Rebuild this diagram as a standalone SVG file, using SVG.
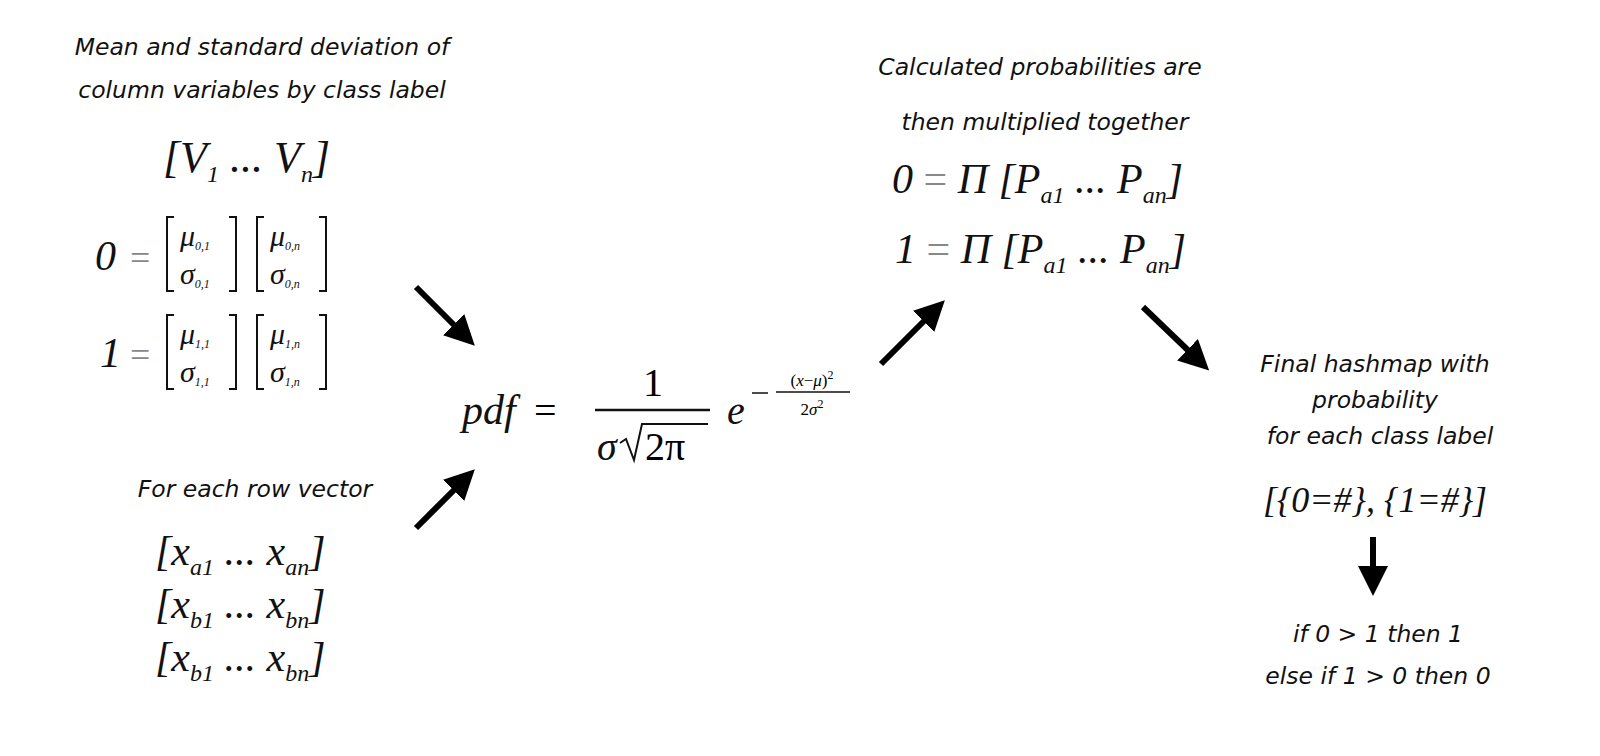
<svg xmlns="http://www.w3.org/2000/svg" width="1600" height="756" viewBox="0 0 1600 756">
<style>
.lab{font-family:"DejaVu Sans",sans-serif;font-style:italic;font-size:23.5px;fill:#111;text-anchor:middle}
.m{font-family:"Liberation Serif",serif;font-style:italic;fill:#111}
.eq{font-family:"Liberation Serif",serif;fill:#888}
.br{fill:none;stroke:#111;stroke-width:2}
.arr{stroke:#000;stroke-width:6;marker-end:url(#ah)}
</style>
<defs>
<marker id="ah" markerWidth="5" markerHeight="5" refX="1.5" refY="2.5" orient="auto" markerUnits="strokeWidth"><path d="M0,0 L5,2.5 L0,5 z" fill="#000"/></marker>
<g id="mat"><path class="br" d="M9,0 H2 V74 H9 M64,0 H71 V74 H64"/></g>
</defs>
<rect width="1600" height="756" fill="#fff"/>
<g id="connectors">
<line class="arr" x1="416" y1="287" x2="460" y2="331"/>
<line class="arr" x1="416" y1="528" x2="460" y2="484"/>
<line class="arr" x1="881" y1="364" x2="930" y2="315"/>
<line class="arr" x1="1143" y1="307" x2="1194" y2="356"/>
<line class="arr" x1="1373" y1="537" x2="1373" y2="575"/>
</g>
<g id="stats">
<text class="lab" x="262" y="55">Mean and standard deviation of</text>
<text class="lab" x="262" y="98">column variables by class label</text>
<text class="m" x="163" y="172" font-size="44">[V<tspan font-size="24" dy="10">1</tspan><tspan dy="-10"> ... V</tspan><tspan font-size="24" dy="10">n</tspan><tspan dy="-10">]</tspan></text>
<text class="m" x="95" y="270" font-size="42">0</text><text class="eq" x="130" y="270" font-size="36">=</text>
<use href="#mat" x="165" y="217"/><use href="#mat" x="255" y="217"/>
<text class="m" font-size="30" x="180" y="246">μ<tspan font-size="12" dy="4">0,1</tspan></text>
<text class="m" font-size="30" x="180" y="284">σ<tspan font-size="12" dy="4">0,1</tspan></text>
<text class="m" font-size="30" x="270" y="246">μ<tspan font-size="12" dy="4">0,n</tspan></text>
<text class="m" font-size="30" x="270" y="284">σ<tspan font-size="12" dy="4">0,n</tspan></text>
<text class="m" x="100" y="367" font-size="42">1</text><text class="eq" x="130" y="367" font-size="36">=</text>
<use href="#mat" x="165" y="315"/><use href="#mat" x="255" y="315"/>
<text class="m" font-size="30" x="180" y="344">μ<tspan font-size="12" dy="4">1,1</tspan></text>
<text class="m" font-size="30" x="180" y="382">σ<tspan font-size="12" dy="4">1,1</tspan></text>
<text class="m" font-size="30" x="270" y="344">μ<tspan font-size="12" dy="4">1,n</tspan></text>
<text class="m" font-size="30" x="270" y="382">σ<tspan font-size="12" dy="4">1,n</tspan></text>
</g>
<g id="rows">
<text class="lab" x="255" y="497">For each row vector</text>
<text class="m" x="155" y="565" font-size="42">[x<tspan font-size="24" dy="10">a1</tspan><tspan dy="-10"> ... x</tspan><tspan font-size="24" dy="10">an</tspan><tspan dy="-10">]</tspan></text>
<text class="m" x="155" y="618" font-size="42">[x<tspan font-size="24" dy="10">b1</tspan><tspan dy="-10"> ... x</tspan><tspan font-size="24" dy="10">bn</tspan><tspan dy="-10">]</tspan></text>
<text class="m" x="155" y="671" font-size="42">[x<tspan font-size="24" dy="10">b1</tspan><tspan dy="-10"> ... x</tspan><tspan font-size="24" dy="10">bn</tspan><tspan dy="-10">]</tspan></text>
</g>
<g id="pdf">
<text class="m" x="462" y="424" font-size="42">pdf</text>
<text x="534" y="424" font-size="40" font-family="Liberation Serif,serif">=</text>
<text x="653" y="396" font-size="40" font-family="Liberation Serif,serif" text-anchor="middle">1</text>
<line x1="595" y1="410" x2="710" y2="410" stroke="#111" stroke-width="2.5"/>
<text class="m" x="597" y="460" font-size="40">σ</text>
<path d="M620,443 L626,439 L634,460 L642,424 H708" fill="none" stroke="#111" stroke-width="2"/>
<text x="645" y="460" font-size="40" font-family="Liberation Serif,serif">2π</text>
<text class="m" x="727" y="424" font-size="40">e</text>
<line x1="752" y1="393" x2="768" y2="393" stroke="#111" stroke-width="1.5"/>
<text x="812" y="386" font-size="17" font-family="Liberation Serif,serif" text-anchor="middle">(<tspan font-style="italic">x</tspan>−<tspan font-style="italic">μ</tspan>)<tspan font-size="12" dy="-7">2</tspan></text>
<line x1="776" y1="392" x2="850" y2="392" stroke="#111" stroke-width="1.5"/>
<text x="812" y="415" font-size="17" font-family="Liberation Serif,serif" text-anchor="middle">2<tspan font-style="italic">σ</tspan><tspan font-size="12" dy="-7">2</tspan></text>
</g>
<g id="product">
<text class="lab" x="1040" y="75">Calculated probabilities are</text>
<text class="lab" x="1045" y="130">then multiplied together</text>
<text class="m" x="892" y="193" font-size="42">0 <tspan class="eq" font-style="normal" fill="#111">=</tspan> Π [P<tspan font-size="24" dy="10">a1</tspan><tspan dy="-10"> ... P</tspan><tspan font-size="24" dy="10">an</tspan><tspan dy="-10">]</tspan></text>
<text class="m" x="895" y="263" font-size="42">1 <tspan class="eq" font-style="normal">=</tspan> Π [P<tspan font-size="24" dy="10">a1</tspan><tspan dy="-10"> ... P</tspan><tspan font-size="24" dy="10">an</tspan><tspan dy="-10">]</tspan></text>
</g>
<g id="hashmap">
<text class="lab" x="1375" y="372">Final hashmap with</text>
<text class="lab" x="1375" y="408">probability</text>
<text class="lab" x="1380" y="444">for each class label</text>
<text class="m" x="1375" y="512" font-size="36" text-anchor="middle">[{0=#}, {1=#}]</text>
</g>
<g id="decision">
<text class="lab" x="1378" y="642">if 0 &gt; 1 then 1</text>
<text class="lab" x="1378" y="684">else if 1 &gt; 0 then 0</text>
</g>
</svg>
